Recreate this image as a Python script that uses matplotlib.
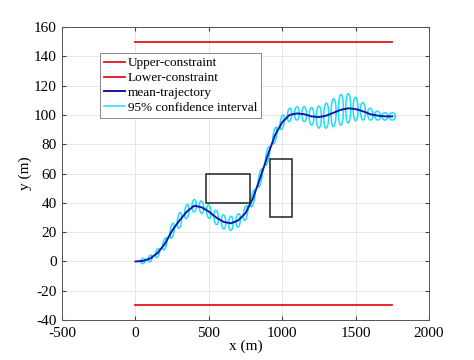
import numpy as np
import matplotlib
matplotlib.use('Agg')
import matplotlib.pyplot as plt

plt.rcParams['font.family'] = ['Liberation Serif', 'DejaVu Serif']
plt.rcParams['axes.unicode_minus'] = False

# mean trajectory (m)
traj_x = [0, 50, 100, 150, 200, 250, 300, 350, 400, 450, 500, 550, 600, 650, 700,
          750, 800, 850, 900, 950, 1000, 1050, 1100, 1150, 1200, 1250, 1300, 1350,
          1400, 1450, 1500, 1550, 1600, 1650, 1700, 1750]
traj_y = [0, 0.3, 2, 5.7, 12, 21, 28, 34, 38, 37, 34, 30, 27, 26, 28,
          33, 43, 57, 72, 86, 95, 100, 101, 100.5, 99, 98.5, 99.5, 101.5,
          103.5, 104.5, 104, 102.5, 100.5, 99.5, 99, 99]

# 95% confidence ellipses, one per trajectory point after the start
ell_half_x = [14, 14, 14, 15, 15, 15, 15, 15, 15, 15, 15, 15, 15, 15,
              15, 15, 15, 15, 15, 15, 15, 16, 16, 16, 17, 17, 17,
              17, 17, 17, 17, 18, 19, 20, 21]
ell_half_y = [1.8, 2.2, 2.8, 3.5, 4.5, 5, 4.5, 4.2, 4.2, 4.5, 4.8, 4.8, 4.8, 4.5,
              4.5, 4.5, 4.5, 4.5, 4.5, 4.5, 4.5, 4.5, 5, 6, 7.5, 8.5, 9.5,
              10.5, 10, 8, 6, 4, 3, 2.5, 2.5]

# constraints and obstacles
upper_y = 150
lower_y = -30
constraint_x = [0, 1750]
obstacles = [(480, 40, 300, 20), (920, 30, 150, 40)]  # x, y, width, height

fig = plt.figure(figsize=(4.74, 3.6), dpi=100)
ax = fig.add_axes([0.131, 0.111, 0.774, 0.814])

ax.plot(constraint_x, [upper_y, upper_y], color='#e8141c', lw=1.3, label='Upper-constraint')
ax.plot(constraint_x, [lower_y, lower_y], color='#e8141c', lw=1.3, label='Lower-constraint')

tx = np.array(traj_x, dtype=float)
ty = np.array(traj_y, dtype=float)
slope = np.gradient(ty, tx)
t = np.linspace(0, 2 * np.pi, 60)
for i in range(1, len(tx)):
    a = ell_half_x[i - 1]
    b = ell_half_y[i - 1]
    ex = tx[i] + a * np.cos(t)
    ey = ty[i] + b * np.sin(t) + slope[i] * a * np.cos(t)
    ax.plot(ex, ey, color='#19e0f5', lw=1.1,
            label='95% confidence interval' if i == 1 else None, zorder=2)

ax.plot(tx, ty, color='#1515b0', lw=1.4, label='mean-trajectory', zorder=3)

for (ox, oy, w, h) in obstacles:
    ax.add_patch(plt.Rectangle((ox, oy), w, h, fill=False, edgecolor='#222222', lw=1.1, zorder=4))

ax.set_xlim(-500, 2000)
ax.set_ylim(-40, 160)
ax.set_xticks(np.arange(-500, 2001, 500))
ax.set_yticks(np.arange(-40, 161, 20))
ax.grid(True, color='#e6e6e6', lw=0.7)
ax.set_axisbelow(True)
ax.tick_params(direction='in', top=True, right=True, labelsize=11, length=3, color='#444444')
ax.tick_params(axis='x', pad=5)
ax.tick_params(axis='y', pad=4)
for s in ax.spines.values():
    s.set_color('#555555')
    s.set_linewidth(0.7)
ax.set_xlabel('x (m)', fontsize=11, labelpad=0)
ax.set_ylabel('y (m)', fontsize=11, labelpad=1)

h, l = ax.get_legend_handles_labels()
order = [l.index(n) for n in ['Upper-constraint', 'Lower-constraint', 'mean-trajectory', '95% confidence interval']]
leg = ax.legend([h[k] for k in order], [l[k] for k in order], loc='upper left',
                bbox_to_anchor=(0.104, 0.911), fontsize=9.5, fancybox=False,
                framealpha=1, edgecolor='#888888', handlelength=1.6, handletextpad=0.2,
                borderpad=0.3, labelspacing=0.2, borderaxespad=0)
leg.get_frame().set_linewidth(0.7)

fig.savefig('out.png', dpi=100)
